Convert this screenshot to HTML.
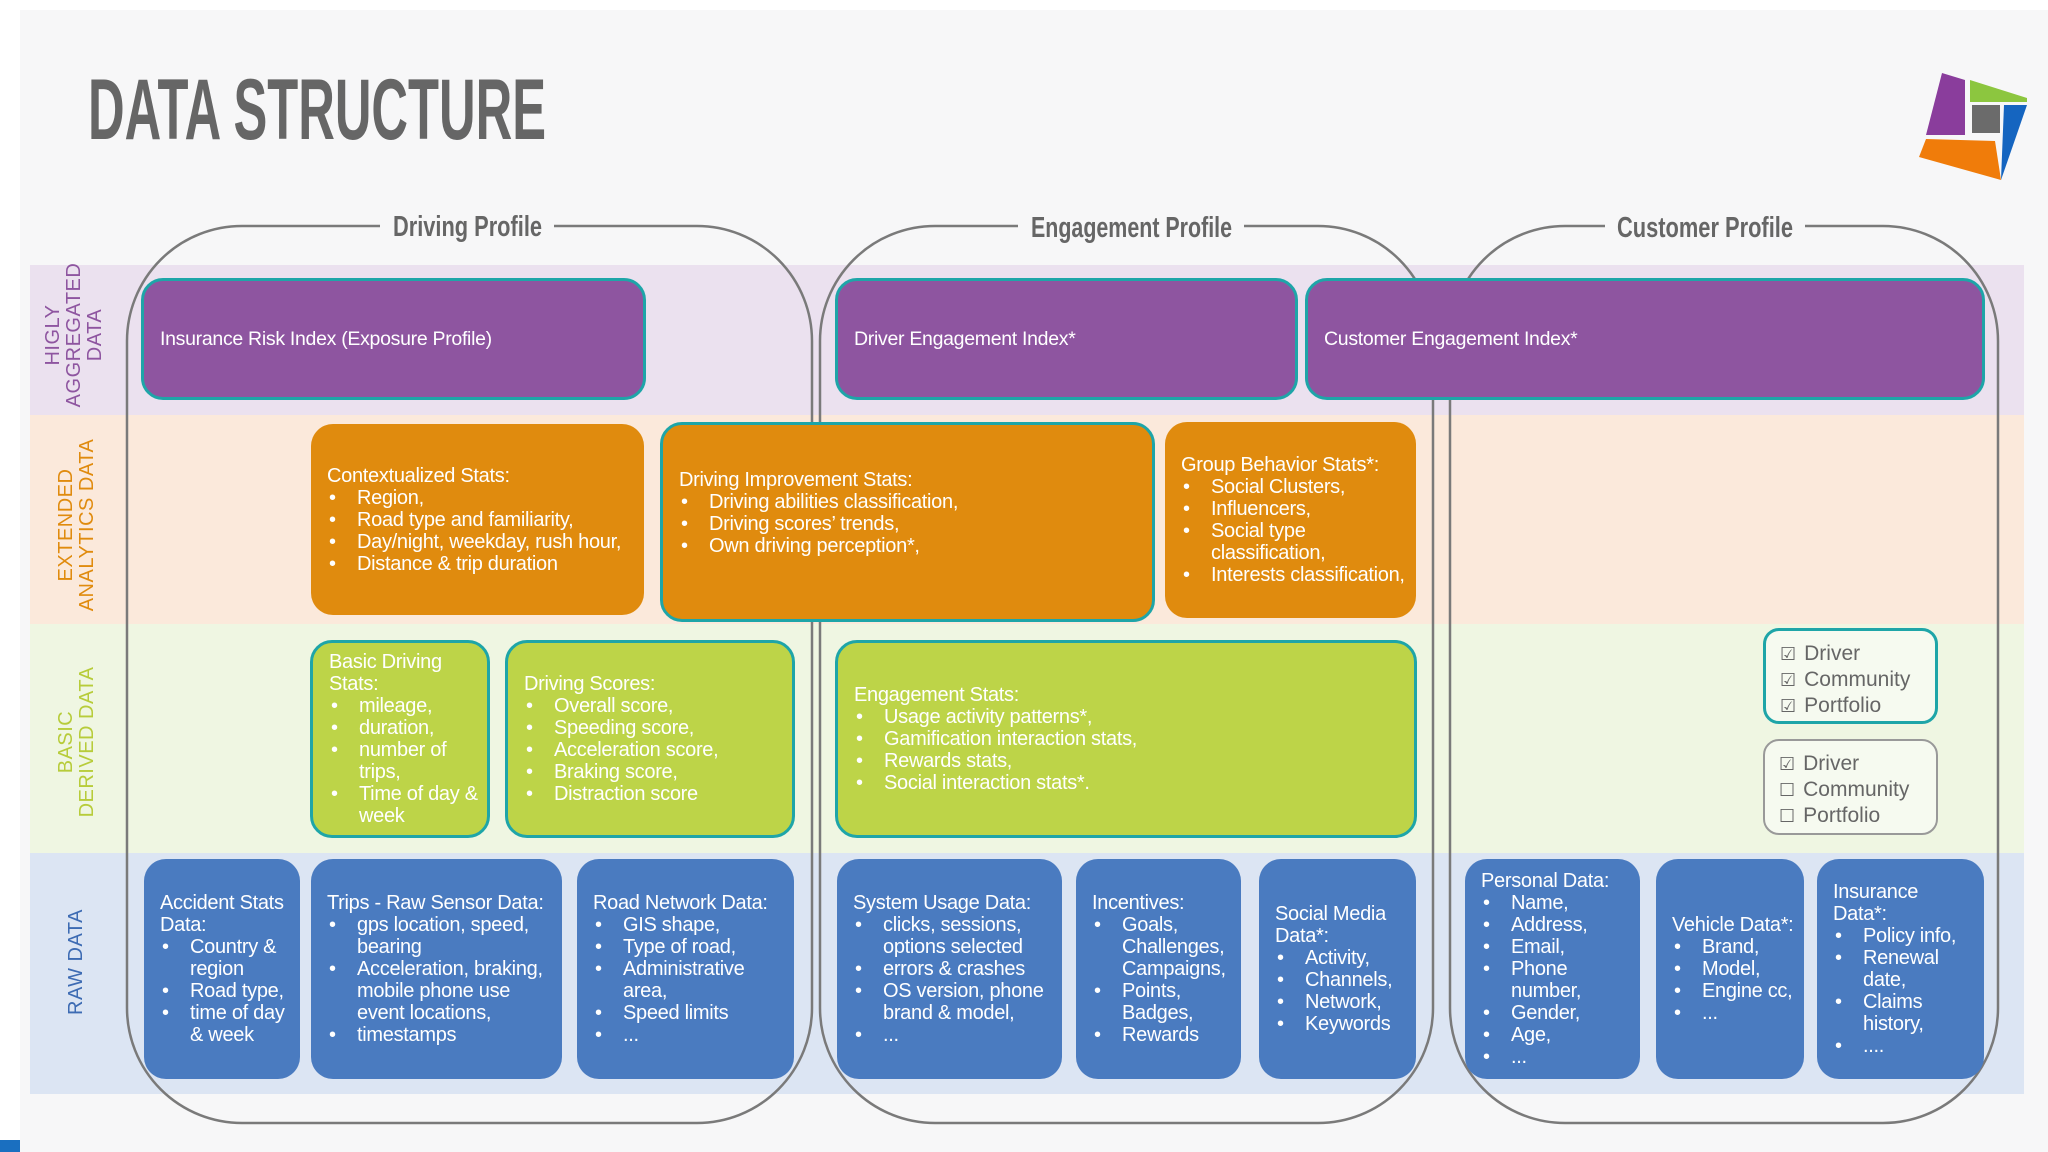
<!DOCTYPE html>
<html><head><meta charset="utf-8"><style>
*{margin:0;padding:0;box-sizing:border-box}
body{width:2048px;height:1152px;position:relative;background:#fff;overflow:hidden;font-family:"Liberation Sans",sans-serif}
#pg{position:absolute;left:20px;top:10px;right:0;bottom:0;background:#f7f7f8}
.band{position:absolute;left:30px;width:1994px}
.b{position:absolute;border-radius:22px;color:#fff;font-size:20px;line-height:22px;display:flex;flex-direction:column;justify-content:center;padding:0 8px 0 16px;letter-spacing:-0.3px}
.p{background:#8e55a0;border:3px solid #1ea5a8;font-size:19.5px}
.o{background:#e08b0e}
.g{background:#bdd448}
.u{background:#4a7bc0}
.t{border:3px solid #1ea5a8}
ul{list-style:none}
li{position:relative;padding-left:30px}
li:before{content:"•";position:absolute;left:2px;top:0}
.lab{position:absolute;transform:rotate(-90deg);transform-origin:center;text-align:center;font-size:20px;line-height:21px;letter-spacing:0.5px}
.cb{position:absolute;left:1763px;width:175px;border-radius:16px;background:#f6faf0;color:#666;font-size:21px;line-height:25px;padding:10px 0 0 14px;font-family:"Liberation Sans","DejaVu Sans",sans-serif}
.cb span{font-family:"DejaVu Sans",sans-serif;font-size:18px;margin-right:8px}
</style></head><body>
<div id="pg"></div>
<div style="position:absolute;left:0;top:1140px;width:20px;height:12px;background:#1a6fc0"></div>
<div class="band" style="top:265px;height:150px;background:#ebe1ef"></div>
<div class="band" style="top:415px;height:209px;background:#fbe9db"></div>
<div class="band" style="top:624px;height:229px;background:#eff6e2"></div>
<div class="band" style="top:853px;height:241px;background:#dce5f3"></div>

<div class="lab" style="left:-12px;top:300px;width:180px;height:70px;color:#8e55a0">HIGLY<br>AGGREGATED<br>DATA</div>
<div class="lab" style="left:-32px;top:503px;width:220px;height:44px;color:#e08b0e">EXTENDED<br>ANALYTICS DATA</div>
<div class="lab" style="left:-17px;top:720px;width:190px;height:44px;color:#b7cc3a">BASIC<br>DERIVED DATA</div>
<div class="lab" style="left:-2px;top:950px;width:160px;height:24px;color:#3d6bb3">RAW DATA</div>

<svg width="2048" height="1152" style="position:absolute;left:0;top:0">
<text x="88" y="139" font-family="Liberation Sans Narrow, Liberation Sans, sans-serif" font-weight="bold" font-size="86" fill="#666" textLength="458" lengthAdjust="spacingAndGlyphs">DATA STRUCTURE</text>
<g fill="none" stroke="#7a7a7a" stroke-width="2.5">
<rect x="127" y="226" width="685" height="897" rx="115" ry="115"/>
<rect x="820" y="226" width="613" height="897" rx="115" ry="115"/>
<rect x="1450" y="226" width="548" height="897" rx="115" ry="115"/>
</g>
<g fill="#f7f7f8">
<rect x="380" y="210" width="174" height="32"/>
<rect x="1018" y="210" width="226" height="32"/>
<rect x="1605" y="210" width="200" height="32"/>
</g>
<g font-family="Liberation Sans Narrow, Liberation Sans, sans-serif" font-weight="bold" font-size="29" fill="#666">
<text x="393" y="236" textLength="149" lengthAdjust="spacingAndGlyphs">Driving Profile</text>
<text x="1031" y="237" textLength="201" lengthAdjust="spacingAndGlyphs">Engagement Profile</text>
<text x="1617" y="237" textLength="176" lengthAdjust="spacingAndGlyphs">Customer Profile</text>
</g>
<polygon points="1942,73 1965,80 1965,135 1926,135" fill="#8a3d9c"/>
<polygon points="1970,80 2027,98 2027,102 1970,102" fill="#8cc63f"/>
<rect x="1972" y="105" width="28" height="28" fill="#6b6b6b"/>
<polygon points="2004,105 2027,105 2001,180" fill="#1565c0"/>
<polygon points="1926,139 1995,141 2001,180 1919,157" fill="#f07c0a"/>
</svg>

<div class="b p" style="left:141px;top:278px;width:505px;height:122px">Insurance Risk Index (Exposure Profile)</div>
<div class="b p" style="left:835px;top:278px;width:463px;height:122px">Driver Engagement Index*</div>
<div class="b p" style="left:1305px;top:278px;width:680px;height:122px">Customer Engagement Index*</div>

<div class="b o" style="left:311px;top:424px;width:333px;height:191px">Contextualized Stats:<ul><li>Region,</li><li>Road type and familiarity,</li><li>Day/night, weekday, rush hour,</li><li>Distance &amp; trip duration</li></ul></div>
<div class="b o t" style="left:660px;top:422px;width:495px;height:200px;justify-content:flex-start;padding-top:44px">Driving Improvement Stats:<ul><li>Driving abilities classification,</li><li>Driving scores’ trends,</li><li>Own driving perception*,</li></ul></div>
<div class="b o" style="left:1165px;top:422px;width:251px;height:196px">Group Behavior Stats*:<ul><li>Social Clusters,</li><li>Influencers,</li><li>Social type classification,</li><li>Interests classification,</li></ul></div>

<div class="b g t" style="left:310px;top:640px;width:180px;height:198px">Basic Driving Stats:<ul><li>mileage,</li><li>duration,</li><li>number of trips,</li><li>Time of day &amp; week</li></ul></div>
<div class="b g t" style="left:505px;top:640px;width:290px;height:198px">Driving Scores:<ul><li>Overall score,</li><li>Speeding score,</li><li>Acceleration score,</li><li>Braking score,</li><li>Distraction score</li></ul></div>
<div class="b g t" style="left:835px;top:640px;width:582px;height:198px">Engagement Stats:<ul><li>Usage activity patterns*,</li><li>Gamification interaction stats,</li><li>Rewards stats,</li><li>Social interaction stats*.</li></ul></div>

<div class="cb" style="top:628px;height:96px;border:3px solid #1ea5a8"><div><span>☑</span>Driver</div><div><span>☑</span>Community</div><div><span>☑</span>Portfolio</div></div>
<div class="cb" style="top:739px;height:96px;border:2px solid #999"><div><span>☑</span>Driver</div><div><span>☐</span>Community</div><div><span>☐</span>Portfolio</div></div>

<div class="b u" style="left:144px;top:859px;width:156px;height:220px">Accident Stats Data:<ul><li>Country &amp; region</li><li>Road type,</li><li>time of day &amp; week</li></ul></div>
<div class="b u" style="left:311px;top:859px;width:251px;height:220px">Trips - Raw Sensor Data:<ul><li>gps location, speed, bearing</li><li>Acceleration, braking, mobile phone use event locations,</li><li>timestamps</li></ul></div>
<div class="b u" style="left:577px;top:859px;width:217px;height:220px">Road Network Data:<ul><li>GIS shape,</li><li>Type of road,</li><li>Administrative area,</li><li>Speed limits</li><li>...</li></ul></div>
<div class="b u" style="left:837px;top:859px;width:225px;height:220px">System Usage Data:<ul><li>clicks, sessions, options selected</li><li>errors &amp; crashes</li><li>OS version, phone brand &amp; model,</li><li>...</li></ul></div>
<div class="b u" style="left:1076px;top:859px;width:165px;height:220px">Incentives:<ul><li>Goals, Challenges, Campaigns,</li><li>Points, Badges,</li><li>Rewards</li></ul></div>
<div class="b u" style="left:1259px;top:859px;width:157px;height:220px">Social Media Data*:<ul><li>Activity,</li><li>Channels,</li><li>Network,</li><li>Keywords</li></ul></div>
<div class="b u" style="left:1465px;top:859px;width:175px;height:220px">Personal Data:<ul><li>Name,</li><li>Address,</li><li>Email,</li><li>Phone number,</li><li>Gender,</li><li>Age,</li><li>...</li></ul></div>
<div class="b u" style="left:1656px;top:859px;width:148px;height:220px">Vehicle Data*:<ul><li>Brand,</li><li>Model,</li><li>Engine cc,</li><li>...</li></ul></div>
<div class="b u" style="left:1817px;top:859px;width:167px;height:220px">Insurance Data*:<ul><li>Policy info,</li><li>Renewal date,</li><li>Claims history,</li><li>....</li></ul></div>
</body></html>
